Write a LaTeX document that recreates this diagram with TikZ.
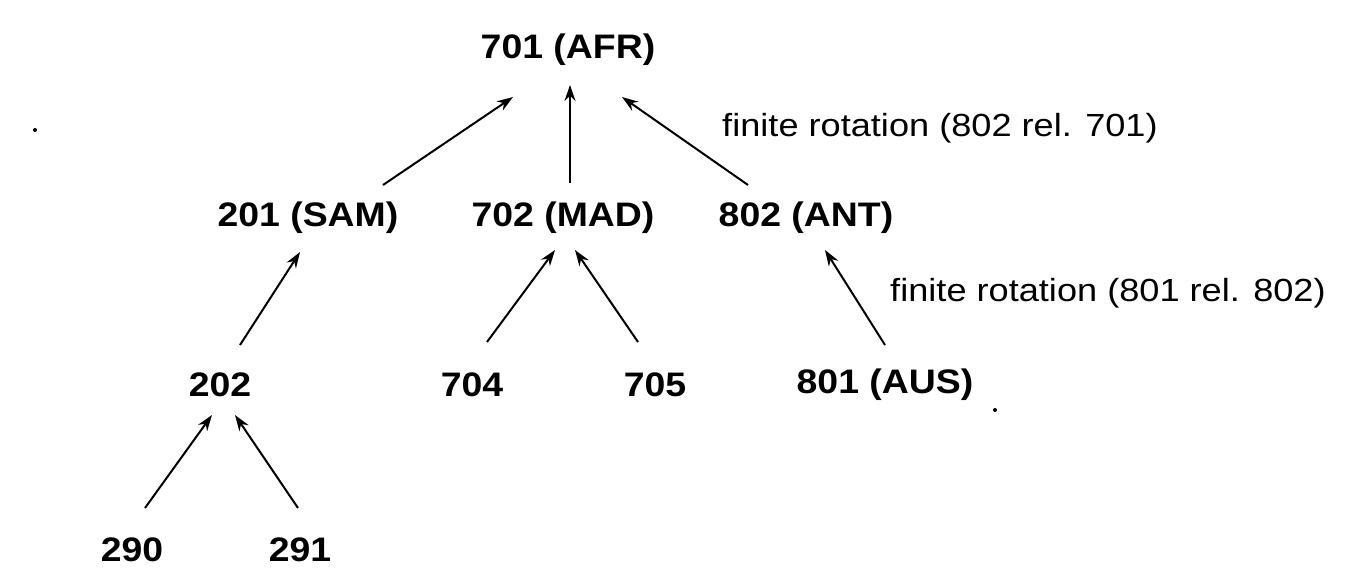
\documentclass[tikz,border=0pt]{standalone}
\usepackage{fontspec}
\setmainfont{Liberation Sans}
\usetikzlibrary{arrows.meta}
\begin{document}
\begin{tikzpicture}[x=1pt,y=1pt,
  lab/.style={font=\fontsize{34}{34}\selectfont\bfseries,inner sep=0pt,xscale=1.1},
  note/.style={font=\fontsize{32}{32}\selectfont,inner sep=0pt,anchor=west,xscale=1.13},
  arr/.style={-{Stealth[length=16pt,width=11pt]},line width=2pt}]
\useasboundingbox (0,0) rectangle (1356,571);
\node[lab] (n701) at (568,521) {701 (AFR)};
\node[lab] (n201) at (308,353) {201 (SAM)};
\node[lab] (n702) at (563,353) {702 (MAD)};
\node[lab] (n802) at (806,353) {802 (ANT)};
\node[lab] (n202) at (220,186) {202};
\node[lab] (n704) at (472,186) {704};
\node[lab] (n705) at (655,186) {705};
\node[lab] (n801) at (885,186) {801 (AUS)};
\node[lab] (n290) at (132,21) {290};
\node[lab] (n291) at (300,21) {291};
\node[note] (r1) at (722,443) {finite rotation (802 rel. 701)};
\node[note] (r2) at (890,278) {finite rotation (801 rel. 802)};
\fill (35,441) circle (2pt);
\fill (995,161) circle (2pt);
\coordinate (a1) at (383,386); \coordinate (b1) at (513,474);
\coordinate (a2) at (570,388); \coordinate (b2) at (570,486);
\coordinate (a3) at (748,386); \coordinate (b3) at (622,474);
\coordinate (a4) at (240,226); \coordinate (b4) at (300,319);
\coordinate (a5) at (487,229); \coordinate (b5) at (555,321);
\coordinate (a6) at (638,229); \coordinate (b6) at (575,321);
\coordinate (a7) at (885,226); \coordinate (b7) at (825,321);
\coordinate (a8) at (145,63); \coordinate (b8) at (212,156);
\coordinate (a9) at (298,63); \coordinate (b9) at (235,156);
\foreach \i in {1,...,9} \draw[arr] (a\i) -- (b\i);
\end{tikzpicture}
\end{document}
